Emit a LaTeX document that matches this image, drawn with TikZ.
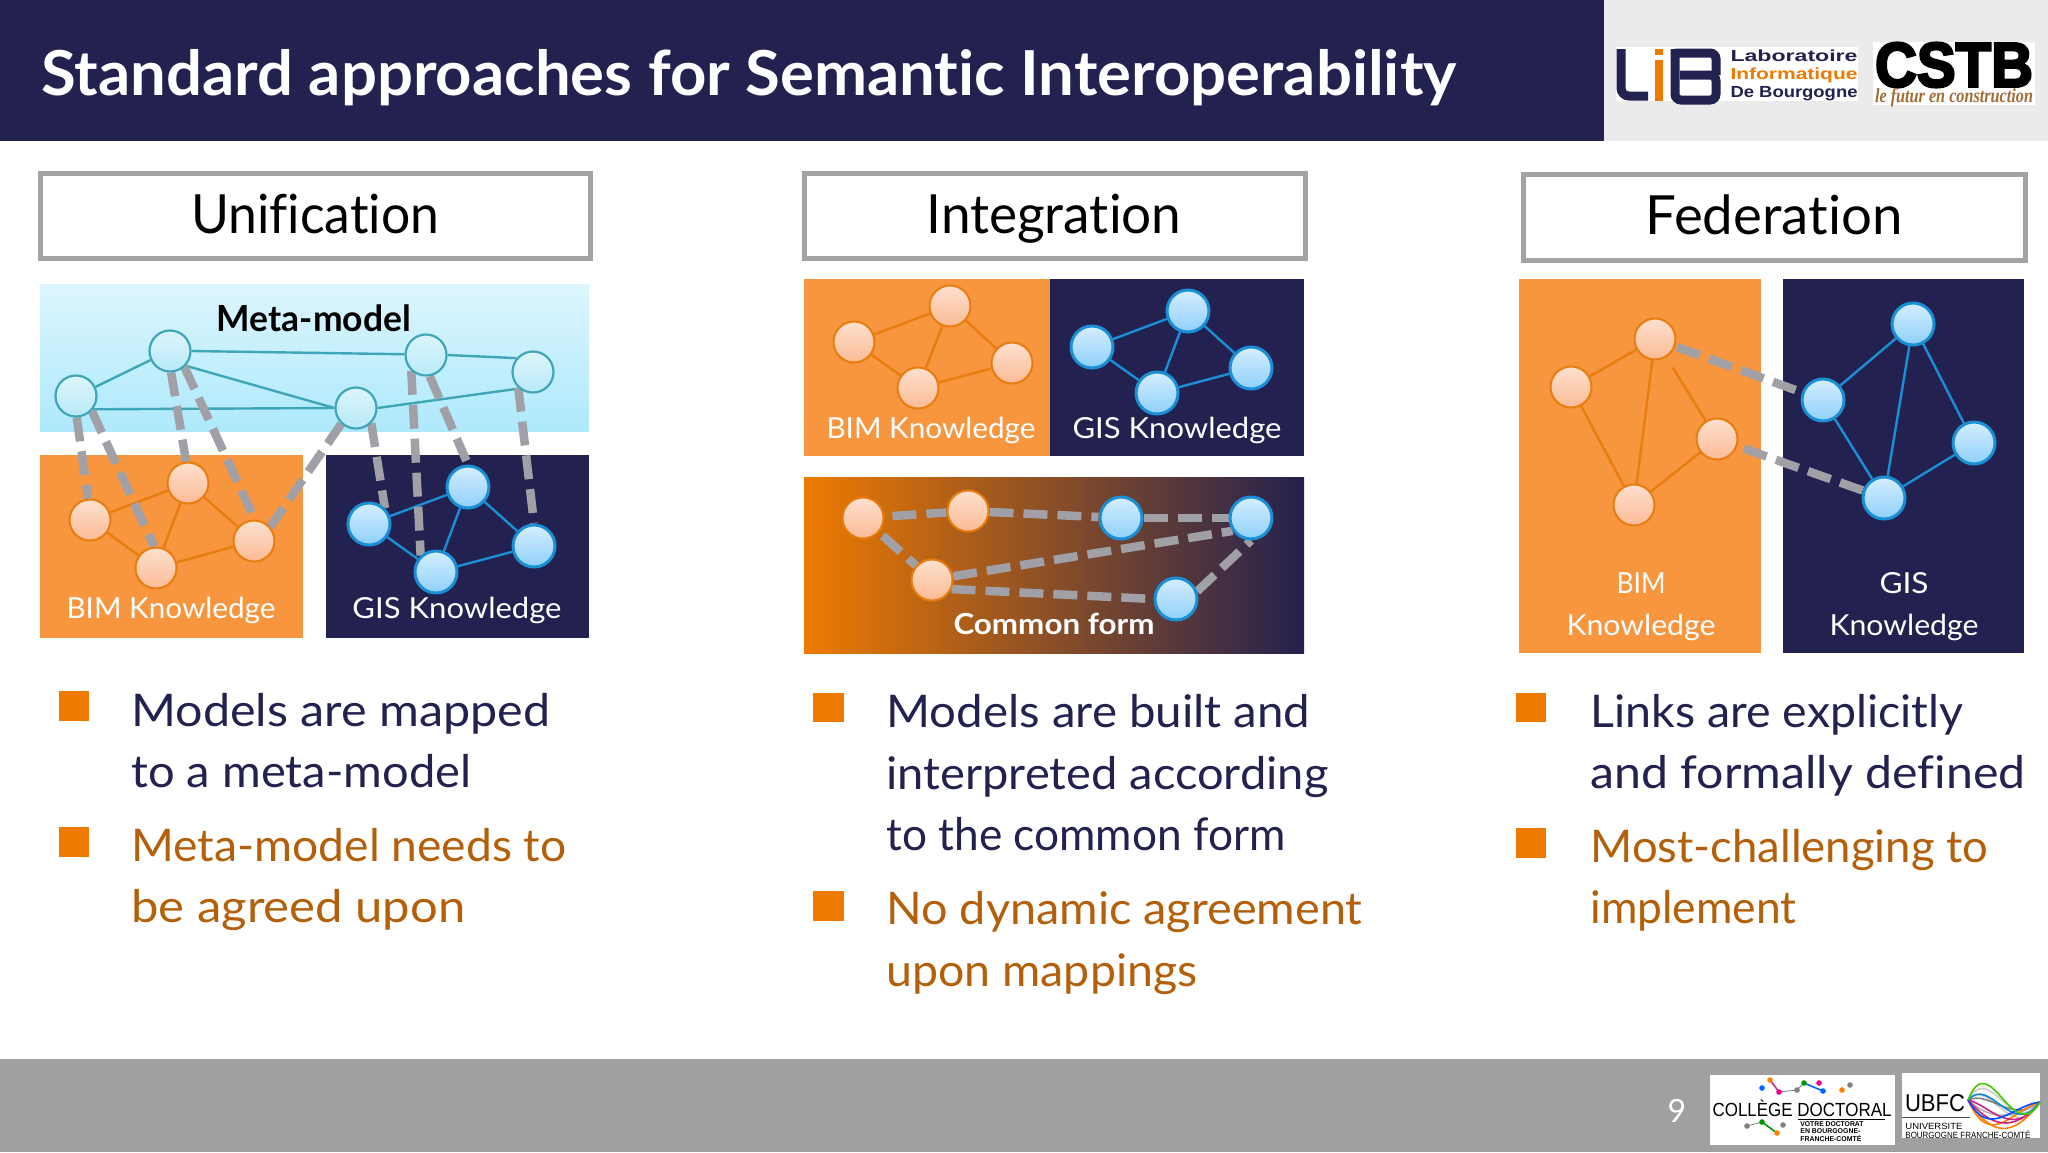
\documentclass[tikz,border=0pt]{standalone}
\usepackage{fontspec}
\usepackage{graphicx}
\setmainfont[Ligatures=NoCommon]{Lato}
\newfontfamily\logofont{Liberation Sans}
\newfontfamily\cstbfont[FakeBold=4]{Liberation Sans}
\newfontfamily\serifit{Liberation Serif}
\usetikzlibrary{shapes.geometric,shadings}
\newlength\px \setlength\px{0.5pt}
\newcommand\fw[2]{\resizebox{#1\px}{\height}{#2}}
\newcommand\fs[1]{\fontsize{#1\px}{#1\px}\selectfont}
\definecolor{navy}{HTML}{23214F}
\definecolor{orng}{HTML}{F7963F}
\definecolor{deeporange}{HTML}{EE7B00}
\definecolor{brownish}{HTML}{B4600B}
\definecolor{linkgray}{HTML}{A0A0A6}
\definecolor{foot}{HTML}{A0A0A2}
\definecolor{boxgray}{HTML}{A3A3A3}
\definecolor{cyanedge}{HTML}{3FA6B8}
\definecolor{oedge}{HTML}{E87D0E}
\definecolor{bedge}{HTML}{1A8FD6}
\definecolor{bandtop}{HTML}{DDF6FE}
\definecolor{bandbot}{HTML}{AEE9FC}
\definecolor{mtop}{HTML}{DDF5FC}
\definecolor{mbot}{HTML}{B8EAF8}
\definecolor{otop}{HTML}{FDE0CF}
\definecolor{obot}{HTML}{FBBB95}
\definecolor{btop}{HTML}{D5EEFF}
\definecolor{bbot}{HTML}{8FD0FA}
\pgfdeclarelayer{panel}\pgfdeclarelayer{edge}
\pgfsetlayers{panel,edge,main}
\tikzset{
  x=0.5pt,y=-0.5pt,
  metanode/.style={circle,inner sep=0pt,minimum size=41\px,draw=cyanedge,line width=1.1pt,top color=mtop,bottom color=mbot},
  onode/.style={circle,inner sep=0pt,minimum size=41\px,draw=oedge,line width=1pt,top color=otop,bottom color=obot},
  bnode/.style={circle,inner sep=0pt,minimum size=42\px,draw=bedge,line width=1.5pt,top color=btop,bottom color=bbot},
  metaedge/.style={draw=cyanedge,line width=1.2pt},
  oedgeline/.style={draw=oedge,line width=1.2pt},
  bedgeline/.style={draw=bedge,line width=1.2pt},
  maplink/.style={draw=linkgray,line width=8.5\px,dash pattern=on 24\px off 10\px},
  headbox/.style={draw=boxgray,line width=5\px,fill=white},
  headtxt/.style={anchor=base,inner sep=0pt,text=black,font=\fs{54}},
  lbl/.style={anchor=base,inner sep=0pt,text=white,font=\fs{29}},
  body/.style={anchor=base west,inner sep=0pt,text=navy,font=\fs{45}},
  bodyalt/.style={body,text=brownish},
  sq/.style={fill=deeporange},
}
\begin{document}
\begin{tikzpicture}
\useasboundingbox (0,0) rectangle (2048,1152);
\begin{pgfonlayer}{panel}
\fill[white] (0,0) rectangle (2048,1152);
\fill[navy] (0,0) rectangle (1604,141);
\fill[black!8] (1604,0) rectangle (2048,141);
\fill[foot] (0,1059) rectangle (2048,1152);
% header boxes
\draw[headbox] (40,173) rectangle (590,258);
\draw[headbox] (804,173) rectangle (1305,258);
\draw[headbox] (1523,174) rectangle (2025,260);
% panels unification
\shade[top color=bandtop,bottom color=bandbot] (40,284) rectangle (589,431);
\fill[orng] (40,455) rectangle (303,638);
\fill[navy] (326,455) rectangle (589,638);
% panels integration
\fill[orng] (804,279) rectangle (1050,456);
\fill[navy] (1050,279) rectangle (1304,456);
\shade[left color=deeporange,right color=navy] (804,477) rectangle (1304,653);
% panels federation
\fill[orng] (1519,279) rectangle (1761,653);
\fill[navy] (1783,279) rectangle (2024,653);
% bullets
\fill[sq] (59,691) rectangle (89,721);
\fill[sq] (59,827) rectangle (89,857);
\fill[sq] (813,693) rectangle (844,722);
\fill[sq] (813,891) rectangle (844,921);
\fill[sq] (1516,693) rectangle (1546,722);
\fill[sq] (1516,828) rectangle (1546,858);
\end{pgfonlayer}

% title
\node[anchor=base west,inner sep=0pt,text=white,font=\fs{62}\bfseries] (title) at (41,95) {\fw{1415}{Standard approaches for Semantic Interoperability}};
\node[headtxt] (hu) at (315,233) {\fw{248}{Unification}};
\node[headtxt] (hi) at (1054,233) {\fw{255}{Integration}};
\node[headtxt] (hf) at (1774,234) {\fw{257}{Federation}};

% unification graph
\node[metanode] (m1) at (76,396) {};
\node[metanode] (m2) at (170,351) {};
\node[metanode] (m3) at (426,355) {};
\node[metanode] (m4) at (533,372) {};
\node[metanode] (m5) at (356,408) {};
\node[onode] (b1) at (90,520) {};
\node[onode] (b2) at (188,483) {};
\node[onode] (b3) at (254,541) {};
\node[onode] (b4) at (156,568) {};
\node[bnode] (g1) at (369,524) {};
\node[bnode] (g2) at (468,487) {};
\node[bnode] (g3) at (534,546) {};
\node[bnode] (g4) at (436,572) {};
\begin{pgfonlayer}{edge}
\draw[metaedge] (m1.25) -- (m2.205);
\draw[metaedge] (m2.0) -- (m3.178);
\draw[metaedge] (m3.0) -- (m4.140);
\draw[metaedge] (m1.322) -- (m5.180);
\draw[metaedge] (m2.317) -- (m5.180);
\draw[metaedge] (m5.0) -- (m4.230);
\foreach \a/\b in {b1/b2,b2/b3,b2/b4,b1/b4,b4/b3} \draw[oedgeline] (\a) -- (\b);
\foreach \a/\b in {g1/g2,g2/g3,g2/g4,g1/g4,g4/g3} \draw[bedgeline] (\a) -- (\b);
\draw[maplink] (m1.272) -- (b1.95);
\draw[maplink] (m1.317) -- (b4.95);
\draw[maplink] (m2.273) -- (b2.95);
\draw[maplink] (m2.312) -- (b3.88);
\draw[maplink] (m5.227) -- (b3.41);
\draw[maplink] (m5.315) -- (g1.45);
\draw[maplink] (m3.227) -- (g4.133);
\draw[maplink] (m3.280) -- (g2.90);
\draw[maplink] (m4.227) -- (g3.90);
\end{pgfonlayer}
\node[anchor=base,inner sep=0pt,text=black,font=\fs{36}\bfseries] (meta) at (314,331) {\fw{194}{Meta-model}};
\node[lbl] (l1) at (171,618) {\fw{209}{BIM Knowledge}};
\node[lbl] (l2) at (457,618) {\fw{209}{GIS Knowledge}};

% integration graphs
\node[onode] (a1) at (854,342) {};
\node[onode] (a2) at (950,306) {};
\node[onode] (a3) at (1012,363) {};
\node[onode] (a4) at (918,388) {};
\node[bnode] (c1) at (1092,347) {};
\node[bnode] (c2) at (1188,311) {};
\node[bnode] (c3) at (1251,368) {};
\node[bnode] (c4) at (1157,393) {};
\node[onode] (k1) at (863,518) {};
\node[onode] (k2) at (968,511) {};
\node[onode] (k3) at (932,580) {};
\node[bnode] (k4) at (1121,518) {};
\node[bnode] (k5) at (1251,518) {};
\node[bnode] (k6) at (1176,599) {};
\begin{pgfonlayer}{edge}
\foreach \a/\b in {a1/a2,a2/a3,a2/a4,a1/a4,a4/a3} \draw[oedgeline] (\a) -- (\b);
\foreach \a/\b in {c1/c2,c2/c3,c2/c4,c1/c4,c4/c3} \draw[bedgeline] (\a) -- (\b);
\draw[maplink,shorten <=8\px] (k1) -- (k2);
\draw[maplink] (k2) -- (k4);
\draw[maplink] (k4) -- (k5);
\draw[maplink,shorten <=5\px] (k1) -- (k3);
\draw[maplink] (k3.10) -- (k5.215);
\draw[maplink] (k3.335) -- (k6.180);
\draw[maplink] (k6.20) -- (k5.270);
\end{pgfonlayer}
\node[lbl] (l3) at (931,438) {\fw{209}{BIM Knowledge}};
\node[lbl] (l4) at (1177,438) {\fw{209}{GIS Knowledge}};
\node[lbl,font=\fs{29}\bfseries] (l5) at (1054,634) {\fw{201}{Common form}};

% federation graphs
\node[onode] (f1) at (1571,387) {};
\node[onode] (f2) at (1655,339) {};
\node[onode] (f3) at (1717,439) {};
\node[onode] (f4) at (1634,505) {};
\node[bnode] (h1) at (1823,400) {};
\node[bnode] (h2) at (1913,324) {};
\node[bnode] (h3) at (1974,443) {};
\node[bnode] (h4) at (1884,498) {};
\begin{pgfonlayer}{edge}
\foreach \a/\b in {f1/f2,f2/f4,f1/f4,f3/f4} \draw[oedgeline] (\a) -- (\b);
\draw[oedgeline,shorten <=12\px] (f2) -- (f3);
\foreach \a/\b in {h1/h2,h2/h3,h2/h4,h1/h4,h3/h4} \draw[bedgeline] (\a) -- (\b);
\draw[maplink,shorten <=2\px] (f2) -- (h1);
\draw[maplink,shorten <=7\px] (f3) -- (h4);
\end{pgfonlayer}
\node[lbl] (l6) at (1641,593) {\fw{49}{BIM}};
\node[lbl] (l7) at (1641,635) {\fw{149}{Knowledge}};
\node[lbl] (l8) at (1904,593) {\fw{49}{GIS}};
\node[lbl] (l9) at (1904,635) {\fw{149}{Knowledge}};

% body text
\node[body] (t1) at (131,726) {\fw{419}{Models are mapped}};
\node[body] (t2) at (131,787) {\fw{340}{to a meta-model}};
\node[bodyalt] (t3) at (131,861) {\fw{435}{Meta-model needs to}};
\node[bodyalt] (t4) at (131,922) {\fw{334}{be agreed upon}};
\node[body] (t5) at (886,727) {\fw{424}{Models are built and}};
\node[body] (t6) at (886,789) {\fw{442}{interpreted according}};
\node[body] (t7) at (886,850) {\fw{399}{to the common form}};
\node[bodyalt] (t8) at (886,924) {\fw{476}{No dynamic agreement}};
\node[bodyalt] (t9) at (886,986) {\fw{311}{upon mappings}};
\node[body] (t10) at (1590,727) {\fw{373}{Links are explicitly}};
\node[body] (t11) at (1590,788) {\fw{435}{and formally defined}};
\node[bodyalt] (t12) at (1590,862) {\fw{398}{Most-challenging to}};
\node[bodyalt] (t13) at (1590,923) {\fw{206}{implement}};

% page number
\node[anchor=center,inner sep=0pt,text=white,font=\fs{32}] (pg) at (1677,1111) {9};

% LIB logo
\fill[white] (1616,47) rectangle (1858,101);
\draw[navy,line width=9\px,rounded corners=8\px] (1621,49) -- (1621,96) -- (1648,96);
\fill[deeporange] (1655,49) rectangle (1663,55);
\fill[deeporange] (1655,60) rectangle (1663,101);
\draw[navy,line width=9\px,rounded corners=6\px] (1675,49) -- (1675,100) -- (1716,100) -- (1716,75) -- (1680,75);
\draw[navy,line width=9\px,rounded corners=6\px] (1675,53) -- (1716,53) -- (1716,75);
\node[inner sep=0pt,anchor=center,text=navy,font=\logofont\bfseries\fs{16}] (lib1) at (1794,56) {\fw{127}{Laboratoire}};
\node[inner sep=0pt,anchor=center,text=deeporange,font=\logofont\bfseries\fs{16}] (lib2) at (1794,75) {\fw{127}{Informatique}};
\node[inner sep=0pt,anchor=center,text=navy,font=\logofont\bfseries\fs{16}] (lib3) at (1794,94) {\fw{127}{De Bourgogne}};
% CSTB logo
\fill[white] (1873,42) rectangle (2035,105);
\node[inner sep=0pt,anchor=center,text=black,font=\cstbfont\bfseries\fs{62}] (cstb) at (1954,65) {\resizebox{158\px}{44\px}{CSTB}};
\node[inner sep=0pt,anchor=center,text=brown!85!black,font=\serifit\itshape\bfseries\fs{20}] (cstb2) at (1954,98) {\fw{158}{le futur en construction}};

% college doctoral logo
\fill[white] (1710,1075) rectangle (1895,1145);
\node[inner sep=0pt,anchor=center,text=black,font=\logofont\fs{19}] (cd1) at (1802,1108) {\fw{179}{COLLÈGE DOCTORAL}};
\draw[black,line width=0.4pt] (1798,1119) -- (1885,1119);
\node[inner sep=0pt,anchor=west,text=black,font=\logofont\bfseries\fs{7}] (cd2) at (1800,1124) {\fw{63}{VOTRE DOCTORAT}};
\node[inner sep=0pt,anchor=west,text=black,font=\logofont\bfseries\fs{7}] (cd3) at (1800,1131) {\fw{60}{EN BOURGOGNE-}};
\node[inner sep=0pt,anchor=west,text=black,font=\logofont\bfseries\fs{7}] (cd4) at (1800,1138) {\fw{61}{FRANCHE-COMTÉ}};
\draw[magenta!80!black,line width=0.8pt] (1770,1080) -- (1779,1092);
\draw[gray,line width=0.4pt] (1779,1092) -- (1797,1090) -- (1804,1083);
\draw[blue!60!cyan,line width=0.8pt] (1804,1083) -- (1823,1091);
\draw[gray,line width=0.4pt] (1747,1126) -- (1762,1122);
\draw[green!60!black,line width=0.8pt] (1762,1122) -- (1777,1133);
\foreach \ax/\ay/\c in {1770/1080/orange,1779/1092/magenta,1797/1090/gray,1804/1083/green!60!black,1823/1091/blue!60!cyan,1819/1083/magenta,1842/1090/orange,1850/1085/gray,1762/1088/blue!60!cyan,1747/1126/gray,1762/1122/green!60!black,1777/1133/orange,1783/1125/gray}
  \fill[\c] (\ax,\ay) circle (1.4pt);

% UBFC logo
\fill[white] (1902,1073) rectangle (2040,1138);
\foreach \c/\ya/\yb in {gray!40/1060/1140,gray!40/1075/1148,gray/1090/1125,gray!60/1120/1120,orange/1135/1140,orange/1150/1110,magenta!70!violet/1125/1135,magenta!70!violet/1105/1140,cyan!70!blue/1075/1140,blue!70!cyan/1140/1105,green!70!yellow!80!black/1045/1148}
  \draw[\c,line width=0.8pt] (1968,1100) .. controls (1990,\ya) and (2012,\yb) .. (2040,1102);
\node[inner sep=0pt,anchor=center,text=black,font=\logofont\fs{24}] (ub1) at (1935,1103) {\resizebox{60\px}{17\px}{UBFC}};
\draw[black!70,line width=0.4pt] (1902,1117) -- (1970,1117);
\node[inner sep=0pt,anchor=west,text=black,font=\logofont\fs{9}] (ub2) at (1905,1126) {\fw{57}{UNIVERSITE}};
\node[inner sep=0pt,anchor=west,text=black,font=\logofont\fs{9}] (ub3) at (1905,1135) {\fw{125}{BOURGOGNE FRANCHE-COMTÉ}};
\end{tikzpicture}
\end{document}
